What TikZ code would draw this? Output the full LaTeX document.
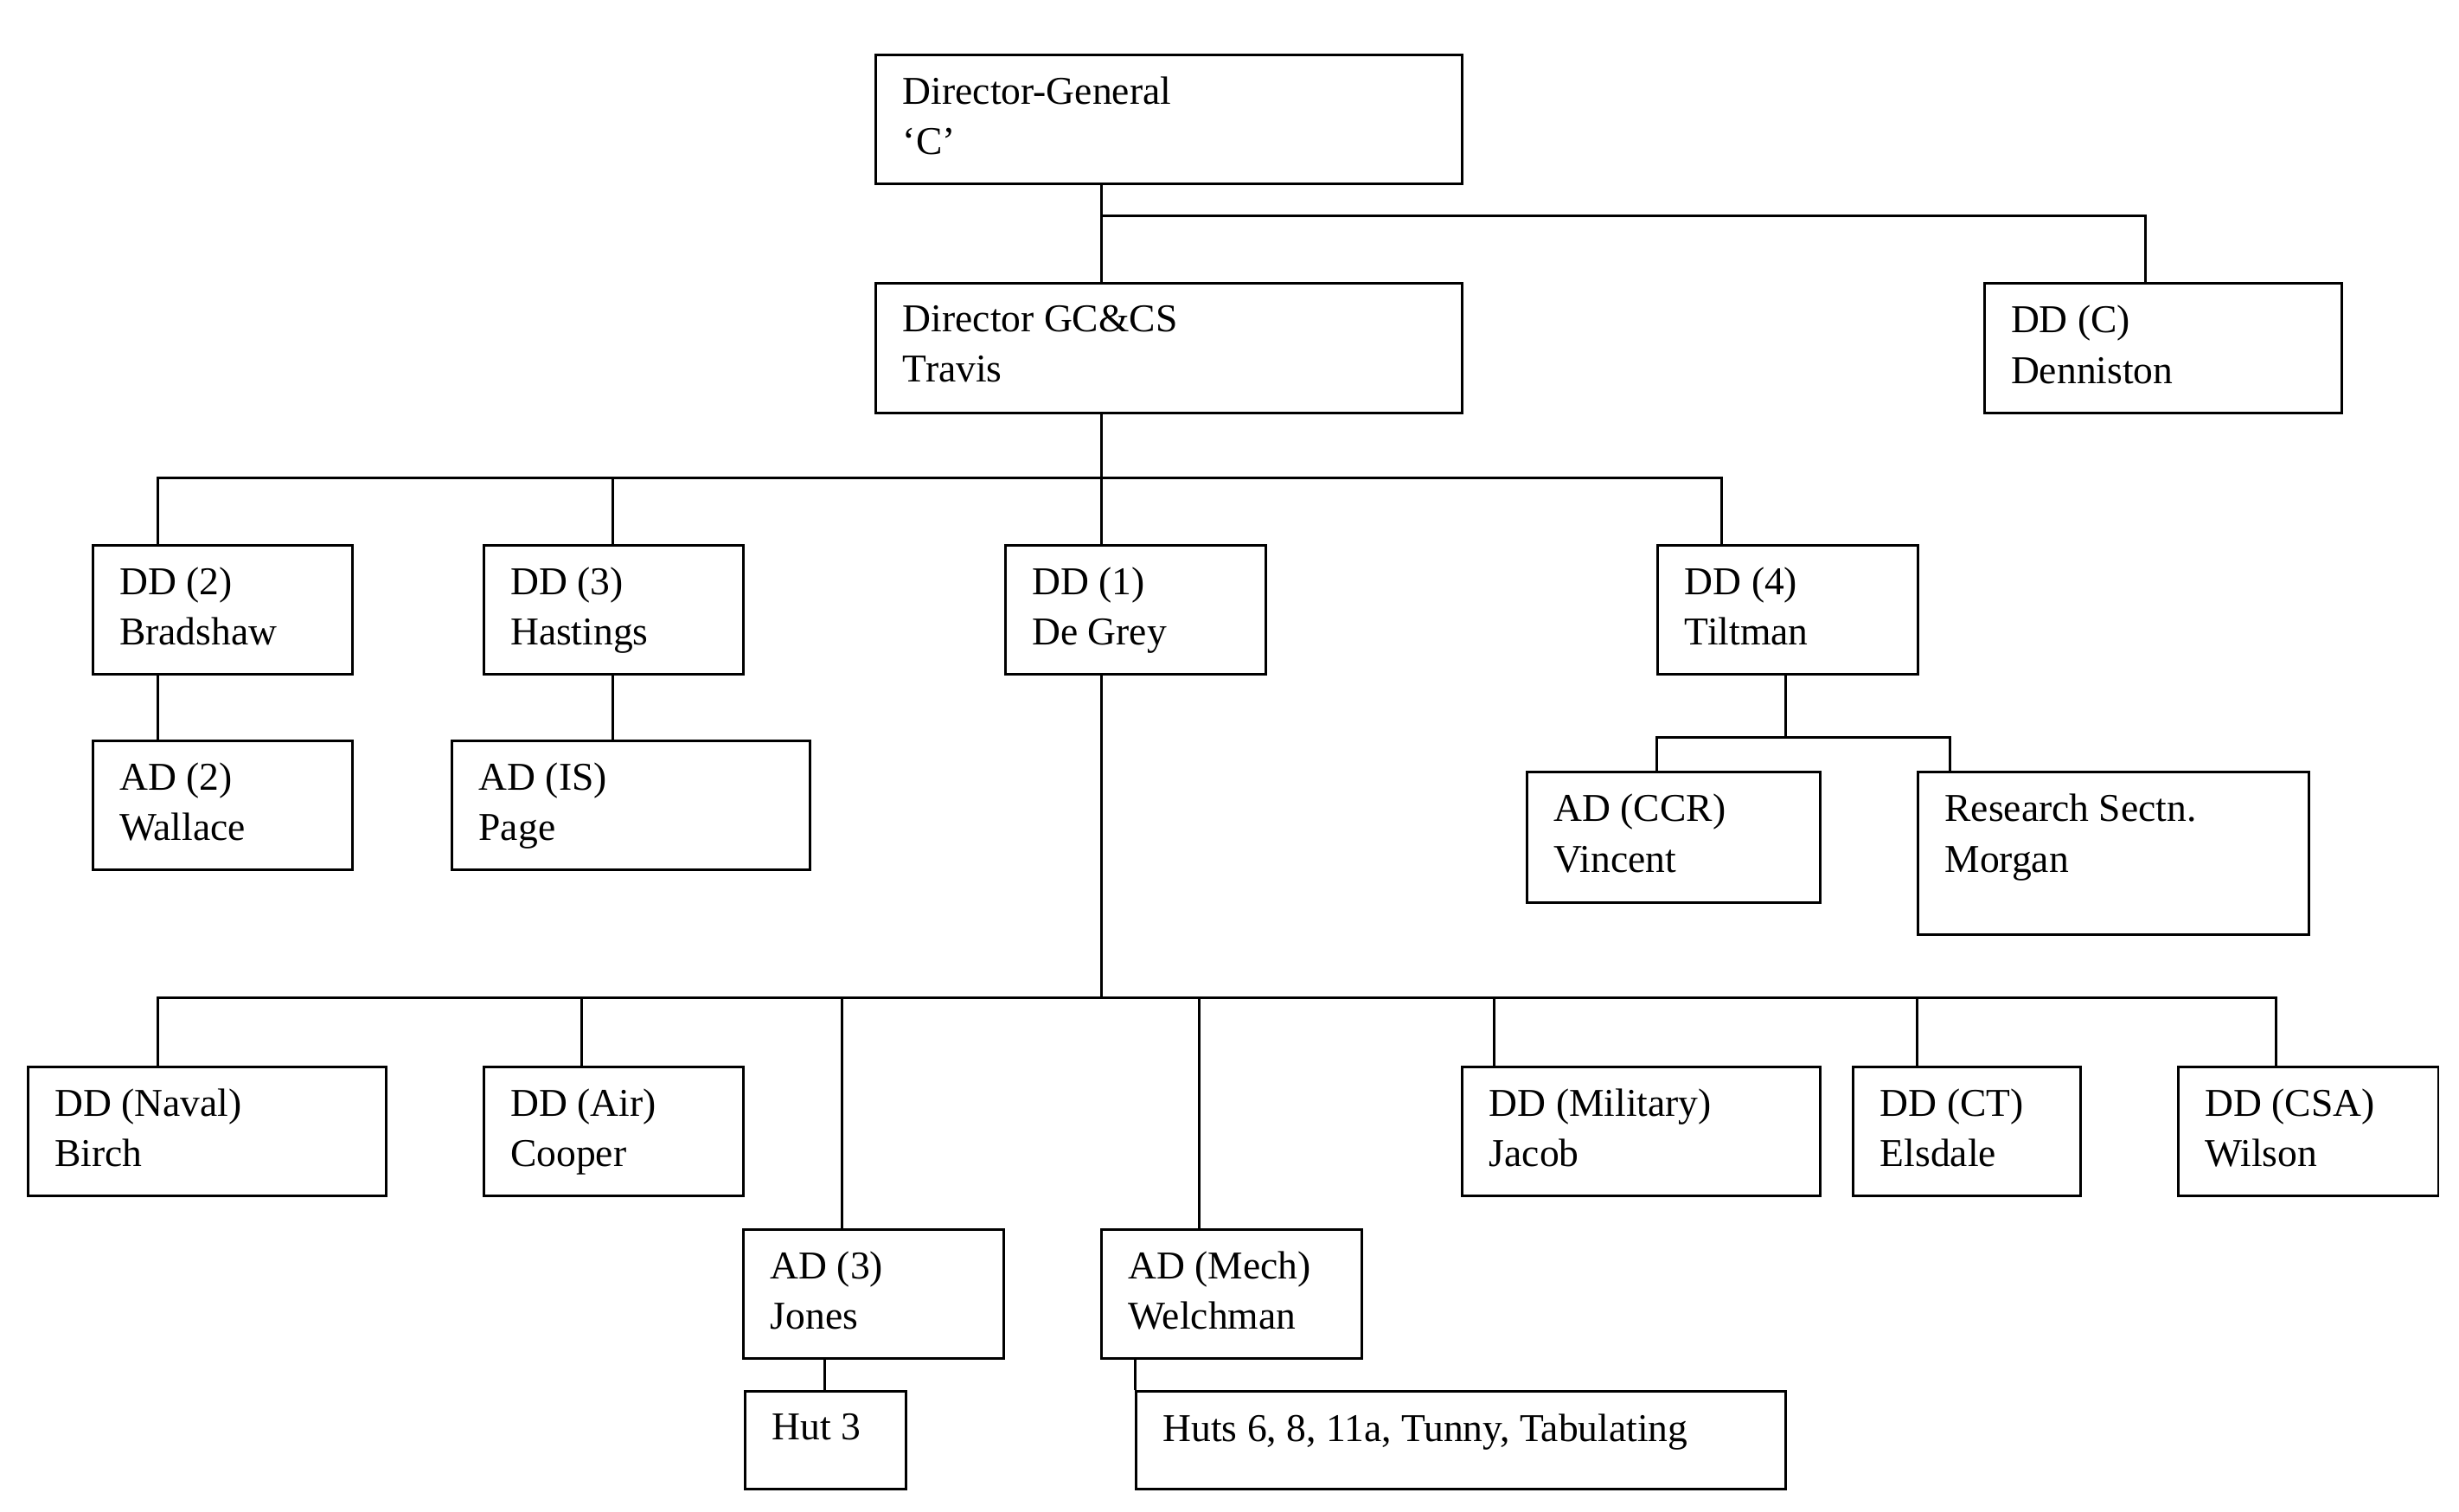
\documentclass[tikz,border=0pt]{standalone}
\usepackage{fontspec}
\setmainfont{Liberation Serif}
\begin{document}
\begin{tikzpicture}[x=1pt,y=-1pt,line width=1.6pt,
  box/.style={draw,rectangle,inner sep=0pt,anchor=north west},
  txt/.style={anchor=north west,inner sep=0pt,align=left,font=\fontsize{25}{32}\selectfont}]
\useasboundingbox (0,0) rectangle (1560,959);
\newcommand{\bx}[6]{%
  \node[box,minimum width={#4-#2},minimum height={#5-#3}] (#1) at (#2,#3) {};
  \node[txt] (#1t) at ([xshift=17,yshift=-14]#1.north west) {#6};}
\bx{dg}{555}{34}{927}{116}{Director-General\\‘C’}
\bx{dir}{555}{179}{927}{261}{Director GC\&CS\\Travis}
\bx{ddc}{1258}{179}{1485}{261}{DD (C)\\Denniston}
\bx{dd2}{58}{345}{223}{427}{DD (2)\\Bradshaw}
\bx{dd3}{306}{345}{471}{427}{DD (3)\\Hastings}
\bx{dd1}{637}{345}{802}{427}{DD (1)\\De Grey}
\bx{dd4}{1051}{345}{1216}{427}{DD (4)\\Tiltman}
\bx{ad2}{58}{469}{223}{551}{AD (2)\\Wallace}
\bx{adis}{286}{469}{513}{551}{AD (IS)\\Page}
\bx{adccr}{968}{489}{1154}{572}{AD (CCR)\\Vincent}
\bx{res}{1216}{489}{1464}{592}{Research Sectn.\\Morgan}
\bx{nav}{17}{676}{244}{758}{DD (Naval)\\Birch}
\bx{air}{306}{676}{471}{758}{DD (Air)\\Cooper}
\bx{mil}{927}{676}{1154}{758}{DD (Military)\\Jacob}
\bx{ct}{1175}{676}{1319}{758}{DD (CT)\\Elsdale}
\bx{csa}{1381}{676}{1546}{758}{DD (CSA)\\Wilson}
\bx{ad3}{471}{779}{636}{861}{AD (3)\\Jones}
\bx{mech}{698}{779}{863}{861}{AD (Mech)\\Welchman}
\bx{hut3}{472}{882}{574}{944}{Hut 3}
\bx{huts}{720}{882}{1132}{944}{Huts 6, 8, 11a, Tunny, Tabulating}
% connectors
\coordinate (a) at (699,137);
\coordinate (b) at (1361,137);
\draw (a |- dg.south) -- (a |- dir.north);
\draw (a) -- (b) -- (b |- ddc.north);
\coordinate (c) at (699,303);
\coordinate (c1) at (100,303);
\coordinate (c2) at (389,303);
\coordinate (c4) at (1092,303);
\draw (c |- dir.south) -- (c |- dd1.north);
\draw (c1 |- dd2.north) -- (c1) -- (c4) -- (c4 |- dd4.north);
\draw (c2) -- (c2 |- dd3.north);
\draw (c1 |- dd2.south) -- (c1 |- ad2.north);
\draw (c2 |- dd3.south) -- (c2 |- adis.north);
\coordinate (d) at (1133,468);
\coordinate (d1) at (1051,468);
\coordinate (d2) at (1237,468);
\draw (d |- dd4.south) -- (d);
\draw (d1 |- adccr.north) -- (d1) -- (d2) -- (d2 |- res.north);
\coordinate (e) at (699,633);
\coordinate (e1) at (100,633);
\coordinate (e2) at (369,633);
\coordinate (e3) at (534,633);
\coordinate (e4) at (761,633);
\coordinate (e5) at (948,633);
\coordinate (e6) at (1216,633);
\coordinate (e7) at (1444,633);
\draw (e |- dd1.south) -- (e);
\draw (e1 |- nav.north) -- (e1) -- (e7) -- (e7 |- csa.north);
\draw (e2) -- (e2 |- air.north);
\draw (e3) -- (e3 |- ad3.north);
\draw (e4) -- (e4 |- mech.north);
\draw (e5) -- (e5 |- mil.north);
\draw (e6) -- (e6 |- ct.north);
\coordinate (f1) at (523,870);
\coordinate (f2) at (720,870);
\draw (f1 |- ad3.south) -- (f1 |- hut3.north);
\draw (f2 |- mech.south) -- (f2 |- huts.north);
\end{tikzpicture}
\end{document}
